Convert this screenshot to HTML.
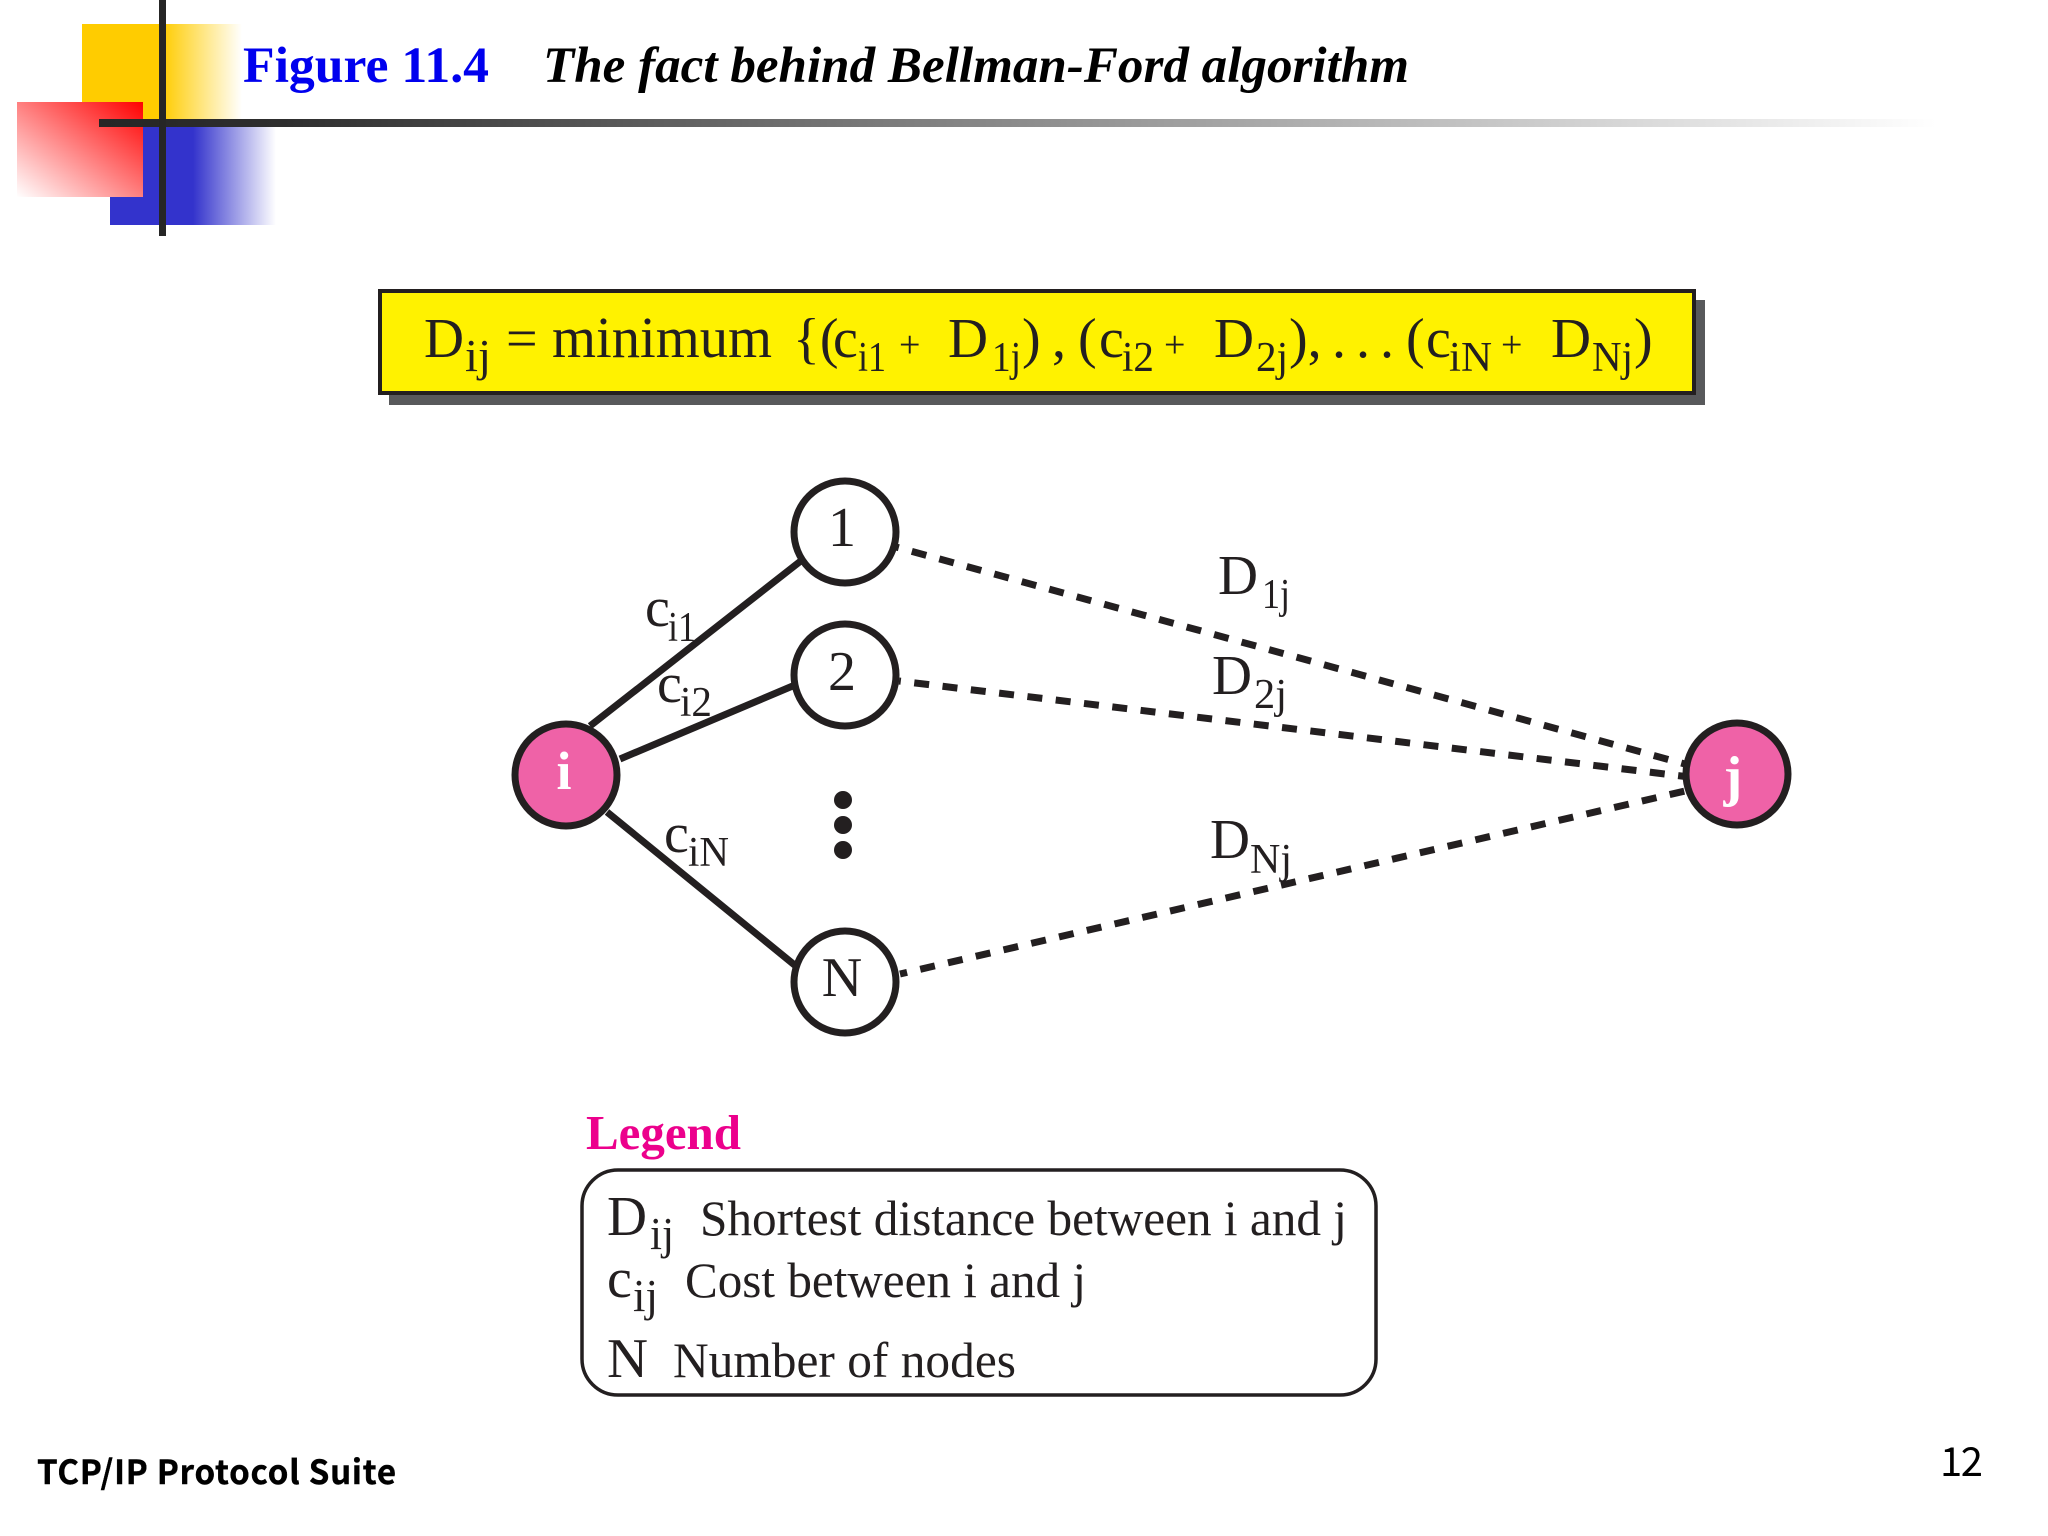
<!DOCTYPE html>
<html>
<head>
<meta charset="utf-8">
<style>
html,body{margin:0;padding:0;background:#fff;width:2048px;height:1536px;overflow:hidden}
svg{display:block}
text{font-family:"Liberation Serif",serif;fill:#231f20}
.s{font-size:42px}
.j{font-size:46px}
.m{font-size:56px}
</style>
</head>
<body>
<svg width="2048" height="1536" viewBox="0 0 2048 1536" xmlns="http://www.w3.org/2000/svg">
<defs>
<linearGradient id="gy" x1="0" y1="0" x2="1" y2="0">
<stop offset="0" stop-color="#ffcc00"/><stop offset="0.5" stop-color="#ffcc00"/><stop offset="1" stop-color="#ffffff"/>
</linearGradient>
<linearGradient id="gb" x1="0" y1="0" x2="1" y2="0">
<stop offset="0" stop-color="#3333cc"/><stop offset="0.5" stop-color="#3333cc"/><stop offset="1" stop-color="#ffffff"/>
</linearGradient>
<linearGradient id="gr" x1="1" y1="0" x2="0" y2="1">
<stop offset="0" stop-color="#ff0000"/><stop offset="1" stop-color="#ffffff"/>
</linearGradient>
<linearGradient id="gl" gradientUnits="userSpaceOnUse" x1="99" y1="0" x2="1936" y2="0">
<stop offset="0" stop-color="#262626"/><stop offset="0.1" stop-color="#2e2e2e"/><stop offset="0.45" stop-color="#808080"/><stop offset="0.75" stop-color="#c4c4c4"/><stop offset="1" stop-color="#ffffff"/>
</linearGradient>
</defs>

<!-- Corner decoration -->
<rect x="82" y="24" width="160" height="96" fill="url(#gy)"/>
<rect x="110" y="120" width="166" height="105" fill="url(#gb)"/>
<rect x="17" y="102" width="126" height="95" fill="url(#gr)"/>
<rect x="99" y="119" width="1837" height="8" fill="url(#gl)"/>
<rect x="159" y="0" width="7" height="236" fill="#262626"/>

<!-- Title -->
<text x="243" y="82" font-size="51" font-weight="bold" style="fill:#0000ee" textLength="246" lengthAdjust="spacingAndGlyphs">Figure 11.4</text>
<text x="543" y="82" font-size="51" font-weight="bold" font-style="italic" style="fill:#000" textLength="866" lengthAdjust="spacingAndGlyphs">The fact behind Bellman-Ford algorithm</text>

<!-- Formula box -->
<rect x="389" y="300" width="1316" height="105" fill="#58595b"/>
<rect x="380" y="291" width="1314" height="102" fill="#fff200" stroke="#231f20" stroke-width="4"/>
<text class="m" x="424" y="357" textLength="40" lengthAdjust="spacingAndGlyphs">D</text><text class="j" x="465" y="371" textLength="26" lengthAdjust="spacingAndGlyphs">ij</text>
<text class="m" x="506" y="357">=</text>
<text x="552" y="357" font-size="58" textLength="220" lengthAdjust="spacingAndGlyphs">minimum</text>
<text class="m" x="793" y="357">{(</text>
<text class="m" x="833" y="357">c</text><text class="s" x="858" y="371" textLength="28" lengthAdjust="spacingAndGlyphs">i1</text>
<text x="899" y="357" font-size="38">+</text>
<text class="m" x="948" y="357" textLength="40" lengthAdjust="spacingAndGlyphs">D</text><text class="s" x="992" y="371" textLength="29" lengthAdjust="spacingAndGlyphs">1j</text>
<text class="m" x="1022" y="357">)</text>
<text class="m" x="1052" y="357">,</text>
<text class="m" x="1078" y="357">(</text>
<text class="m" x="1099" y="357">c</text><text class="s" x="1122" y="371" textLength="32" lengthAdjust="spacingAndGlyphs">i2</text>
<text x="1164" y="357" font-size="38">+</text>
<text class="m" x="1214" y="357" textLength="40" lengthAdjust="spacingAndGlyphs">D</text><text class="s" x="1256" y="371" textLength="32" lengthAdjust="spacingAndGlyphs">2j</text>
<text class="m" x="1289" y="357">),</text>
<text class="m" x="1332" y="357" textLength="62">. . .</text>
<text class="m" x="1406" y="357">(</text>
<text class="m" x="1426" y="357">c</text><text class="s" x="1449" y="371" textLength="43" lengthAdjust="spacingAndGlyphs">iN</text>
<text x="1501" y="357" font-size="38">+</text>
<text class="m" x="1551" y="357" textLength="40" lengthAdjust="spacingAndGlyphs">D</text><text class="s" x="1592" y="371" textLength="41" lengthAdjust="spacingAndGlyphs">Nj</text>
<text class="m" x="1634" y="357">)</text>

<!-- Solid edges -->
<g stroke="#231f20" stroke-width="7" fill="none">
<line x1="590" y1="726" x2="802" y2="560"/>
<line x1="620" y1="759" x2="795" y2="685"/>
<line x1="607" y1="812" x2="797" y2="967"/>
</g>

<!-- Dashed edges, drawn from the j end so dash phase lines up -->
<g stroke="#231f20" stroke-width="7" fill="none" stroke-dasharray="15 13.5">
<line x1="1695.7" y1="767" x2="896" y2="547"/>
<line x1="1693" y1="777.4" x2="899" y2="681"/>
<line x1="1712" y1="784.7" x2="900" y2="974"/>
</g>

<!-- Nodes -->
<g stroke="#231f20" stroke-width="7">
<circle cx="566" cy="775" r="51" fill="#ef62a7"/>
<circle cx="845" cy="532" r="51" fill="#fff"/>
<circle cx="845" cy="675" r="51" fill="#fff"/>
<circle cx="845" cy="982" r="51" fill="#fff"/>
<circle cx="1737" cy="774" r="51" fill="#ef62a7"/>
</g>
<circle cx="843" cy="800" r="9" fill="#231f20"/>
<circle cx="843" cy="825" r="9" fill="#231f20"/>
<circle cx="843" cy="850" r="9" fill="#231f20"/>

<text x="842" y="546" font-size="56" text-anchor="middle">1</text>
<text x="842" y="690" font-size="56" text-anchor="middle">2</text>
<text x="842" y="996" font-size="56" text-anchor="middle">N</text>
<text x="564" y="789" font-size="54" font-weight="bold" text-anchor="middle" style="fill:#fff">i</text>
<text x="1733" y="795" font-size="56" font-weight="bold" text-anchor="middle" style="fill:#fff">j</text>

<!-- Edge labels -->
<text x="645" y="626" font-size="56">c</text><text class="s" x="668" y="641" textLength="28" lengthAdjust="spacingAndGlyphs">i1</text>
<text x="657" y="702" font-size="56">c</text><text class="s" x="680" y="716" textLength="32" lengthAdjust="spacingAndGlyphs">i2</text>
<text x="664" y="852" font-size="56">c</text><text class="s" x="688" y="866" textLength="41" lengthAdjust="spacingAndGlyphs">iN</text>

<text class="m" x="1218" y="594" textLength="40" lengthAdjust="spacingAndGlyphs">D</text><text class="s" x="1262" y="608" textLength="28" lengthAdjust="spacingAndGlyphs">1j</text>
<text class="m" x="1212" y="694" textLength="40" lengthAdjust="spacingAndGlyphs">D</text><text class="s" x="1254" y="708" textLength="33" lengthAdjust="spacingAndGlyphs">2j</text>
<text class="m" x="1210" y="858" textLength="40" lengthAdjust="spacingAndGlyphs">D</text><text class="s" x="1250" y="873" textLength="42" lengthAdjust="spacingAndGlyphs">Nj</text>

<!-- Legend -->
<text x="586" y="1149" font-size="49" font-weight="bold" style="fill:#ec008c" textLength="155" lengthAdjust="spacingAndGlyphs">Legend</text>
<rect x="582" y="1170" width="794" height="225" rx="36" ry="36" fill="#fff" stroke="#231f20" stroke-width="3.5"/>
<text class="m" x="607" y="1235" textLength="40" lengthAdjust="spacingAndGlyphs">D</text><text class="j" x="650" y="1249" textLength="24" lengthAdjust="spacingAndGlyphs">ij</text>
<text x="700" y="1235" font-size="50" textLength="647" lengthAdjust="spacingAndGlyphs">Shortest distance between i and j</text>
<text class="m" x="607" y="1297">c</text><text class="j" x="633" y="1311" textLength="25" lengthAdjust="spacingAndGlyphs">ij</text>
<text x="685" y="1297" font-size="50" textLength="401" lengthAdjust="spacingAndGlyphs">Cost between i and j</text>
<text class="m" x="607" y="1377" textLength="41" lengthAdjust="spacingAndGlyphs">N</text>
<text x="673" y="1377" font-size="50" textLength="343" lengthAdjust="spacingAndGlyphs">Number of nodes</text>

<!-- Footer -->
<text x="37" y="1484" font-size="33" font-weight="bold" style="font-family:'Noto Sans CJK JP','DejaVu Sans',sans-serif;fill:#000;stroke:#000;stroke-width:.4" textLength="359">TCP/IP Protocol Suite</text>
<text x="1940" y="1476" font-size="40" style="font-family:'Noto Sans CJK JP','DejaVu Sans',sans-serif;fill:#000" textLength="43">12</text>
</svg>
</body>
</html>
